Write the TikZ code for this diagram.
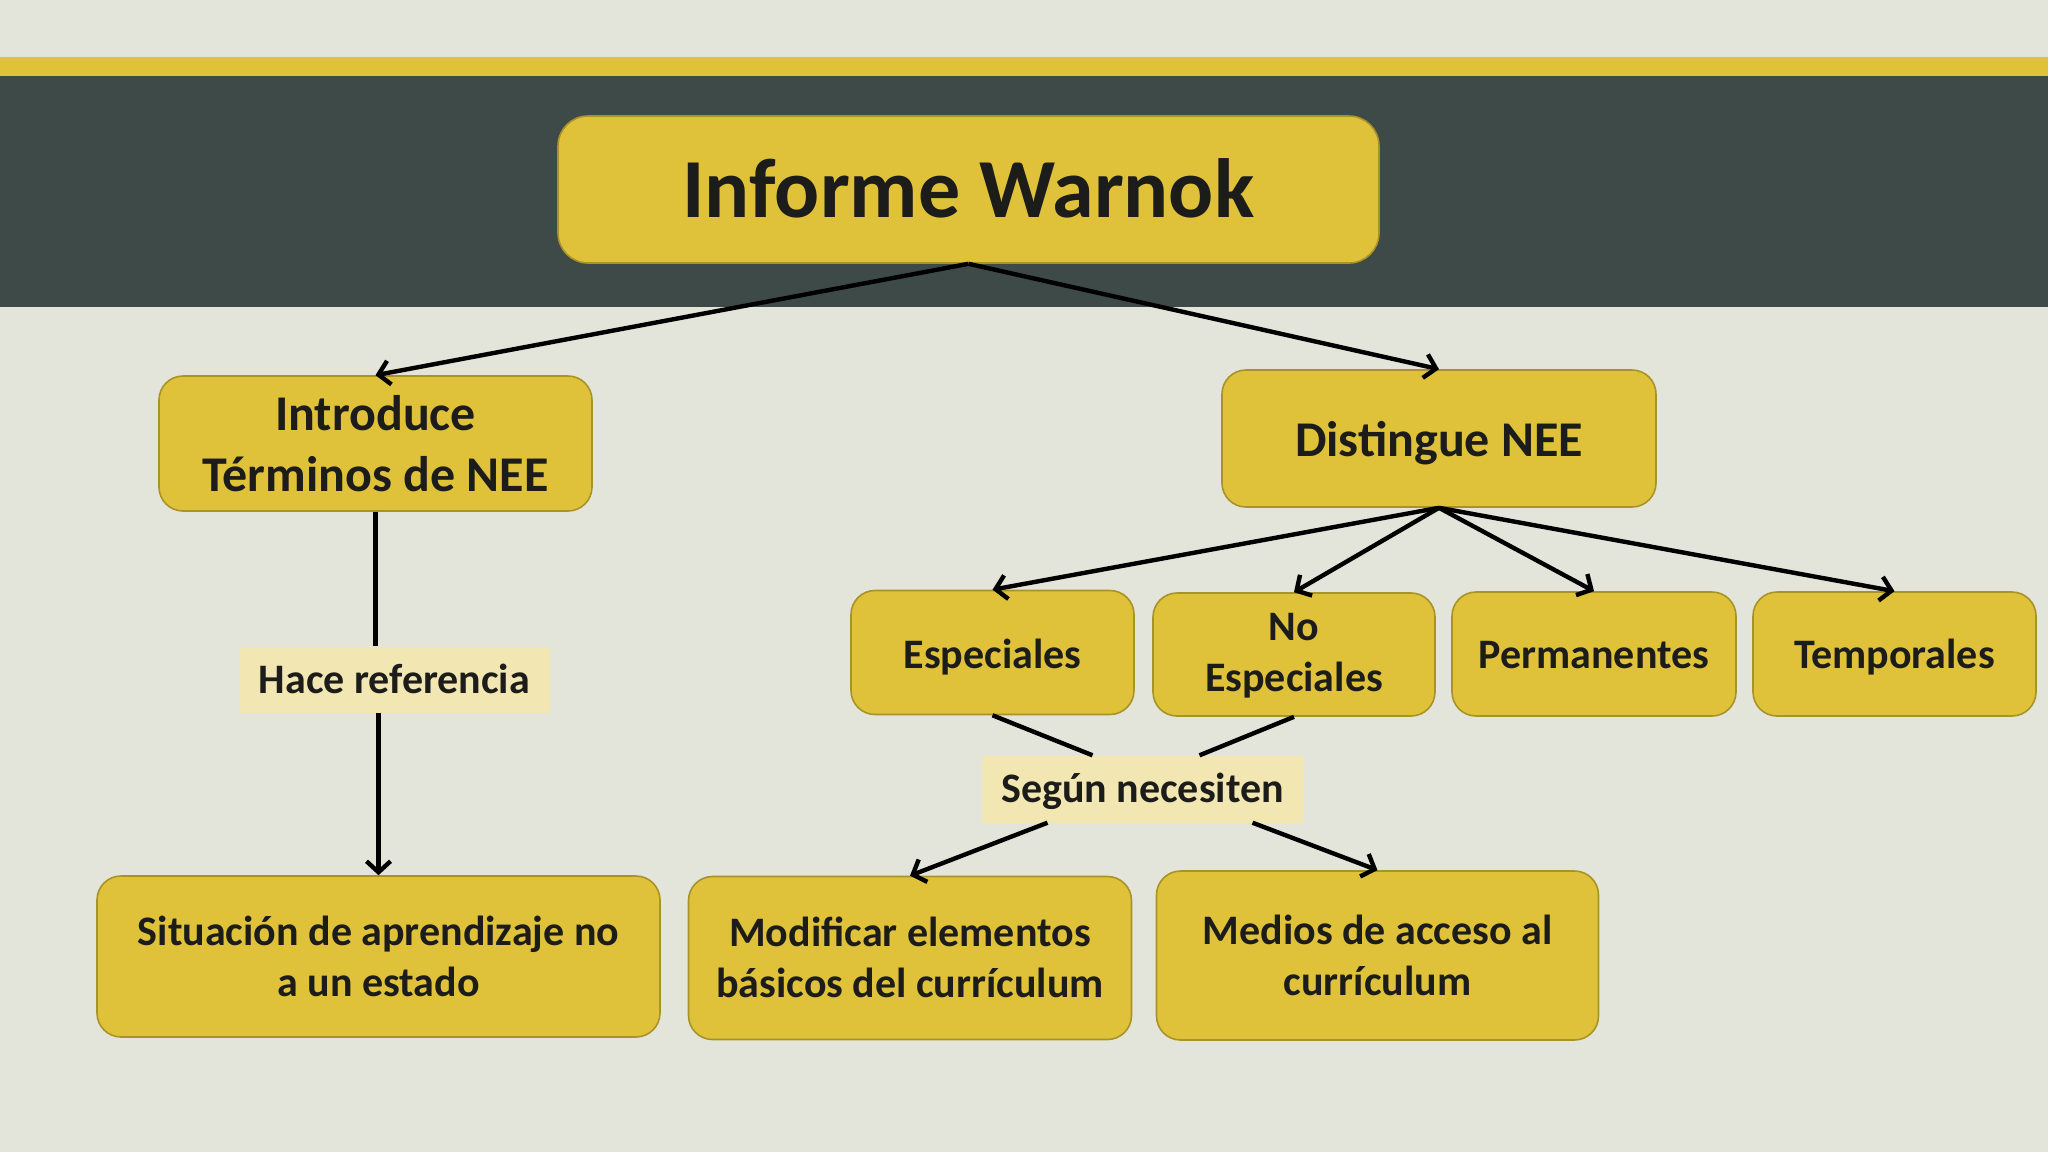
\documentclass[tikz,border=0pt]{standalone}
\usepackage{fontspec}
\setmainfont{Carlito}
\usetikzlibrary{arrows.meta}
\definecolor{bgc}{HTML}{E4E5DA}
\definecolor{band}{HTML}{3E4A48}
\definecolor{gold}{HTML}{DFC23A}
\definecolor{goldedge}{HTML}{A89327}
\definecolor{pale}{HTML}{F2E7B2}
\definecolor{ink}{HTML}{1C1C1A}
\tikzset{
  box/.style={draw=goldedge, line width=1.6pt, fill=gold, rounded corners=24pt, align=center, text=ink, font=\bfseries\fontsize{42}{51}\selectfont, inner sep=0pt},
  bigbox/.style={box, font=\bfseries\fontsize{50}{61}\selectfont},
  lbl/.style={fill=pale, inner sep=0pt, text=ink, font=\bfseries\fontsize{42}{51}\selectfont},
  conn/.style={draw=black, line width=4.4pt},
  arr/.style={conn, -{Straight Barb[length=11pt,width=24pt,line width=4.4pt]}}
}
\begin{document}
\begin{tikzpicture}[x=1pt,y=-1pt]
\useasboundingbox (0,0) rectangle (2048,1152);
\fill[bgc] (0,0) rectangle (2048,1152);
\fill[gold] (0,57) rectangle (2048,76);
\fill[band] (0,76) rectangle (2048,307);

\node[box, rounded corners=30pt, minimum width=821pt, minimum height=147pt, font=\bfseries\fontsize{84}{100}\selectfont, text height=60pt, text depth=3.4pt] (title) at (968.5,189.5) {Informe Warnok};

\node[bigbox, minimum width=433pt, minimum height=135pt, text height=108.4pt, text depth=12pt] (intro) at (375.5,443.5) {Introduce\\Términos de NEE};
\node[bigbox, minimum width=434pt, minimum height=137pt, text height=46pt, text depth=10pt] (dist) at (1439,438.5) {Distingue NEE};

\node[box, minimum width=283pt, minimum height=124pt, text height=40pt, text depth=9pt] (esp) at (992.5,652.5) {Especiales};
\node[box, minimum width=282pt, minimum height=123pt, text height=84.4pt, text depth=10pt] (noesp) at (1294,654.5) {No\\Especiales};
\node[box, minimum width=284pt, minimum height=124pt, text height=38pt, text depth=9pt] (perm) at (1594,654) {Permanentes};
\node[box, minimum width=283pt, minimum height=124pt, text height=38pt, text depth=9pt] (temp) at (1894.5,654) {Temporales};

\node[lbl, minimum width=310pt, minimum height=66pt, text height=36pt, text depth=9pt] (hace) at (394.5,679.5) {Hace referencia};
\node[lbl, minimum width=321pt, minimum height=67pt, text height=36pt, text depth=9pt] (segun) at (1142.5,789) {Según necesiten};

\node[box, minimum width=563pt, minimum height=161pt, text height=90.4pt, text depth=10pt] (sit) at (378.5,956.5) {Situación de aprendizaje no\\a un estado};
\node[box, minimum width=443pt, minimum height=163pt, text height=89.4pt, text depth=10pt] (mod) at (910,958) {Modificar elementos\\básicos del currículum};
\node[box, minimum width=442pt, minimum height=169pt, text height=89pt, text depth=10pt] (med) at (1377.5,955.5) {Medios de acceso al\\currículum};

\draw[arr] (title.south) -- (intro.north);
\draw[arr] (title.south) -- (dist.north);
\draw[arr] (dist.south) -- (esp.north);
\draw[arr] (dist.south) -- (noesp.north);
\draw[arr] (dist.south) -- (perm.north);
\draw[arr] (dist.south) -- (temp.north);

\draw[conn] (intro.south) -- (intro.south |- hace.north);
\draw[arr] (sit.north |- hace.south) -- (sit.north);

\draw[conn] (esp.south) -- ([xshift=-50pt]segun.north);
\draw[conn] (noesp.south) -- ([xshift=57pt]segun.north);
\draw[arr] ([xshift=-95pt]segun.south) -- (mod.north);
\draw[arr] ([xshift=110pt]segun.south) -- (med.north);
\end{tikzpicture}
\end{document}
